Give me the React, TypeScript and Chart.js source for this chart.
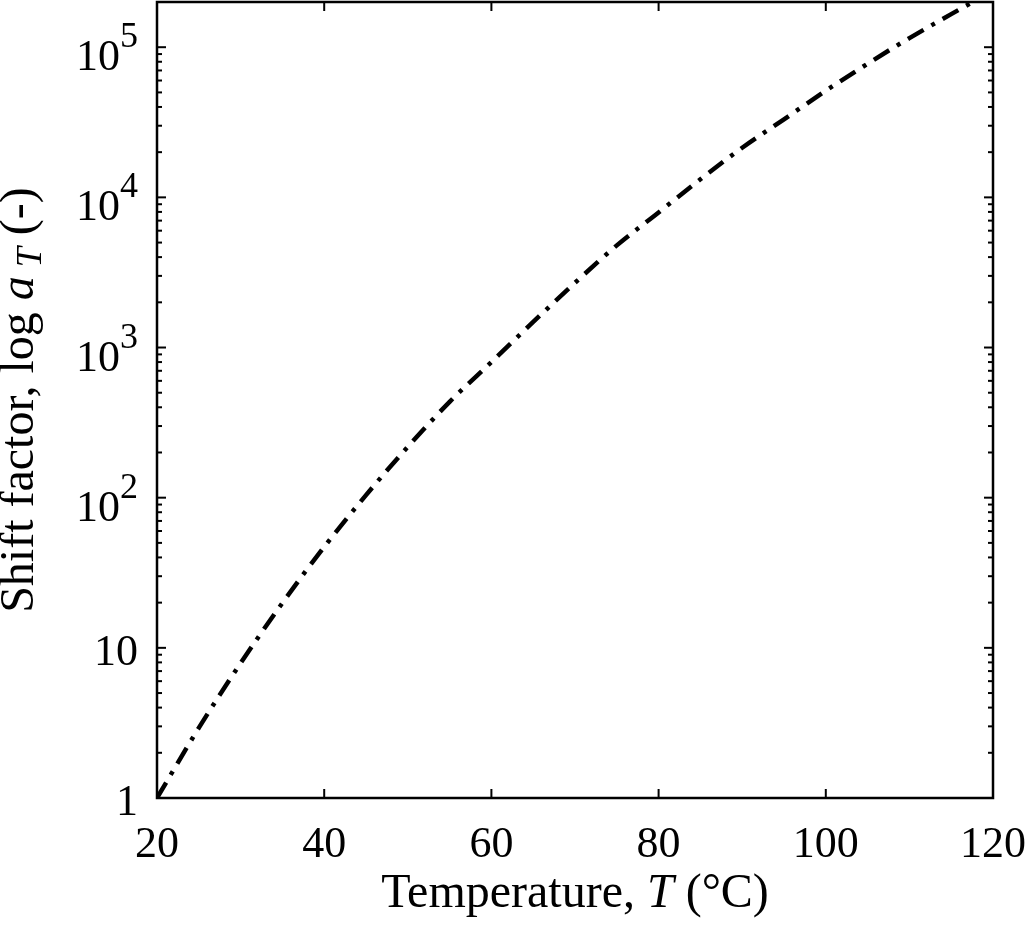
import React, { useEffect, useRef } from 'react';
import { Chart, registerables } from 'chart.js';

Chart.register(...registerables);

// ---- Data ----
const temperatures = [20, 25, 30, 35, 40, 45, 50, 55, 60, 65, 70, 75, 80, 85, 90, 95, 100, 105, 110, 115, 120];
const shiftFactors = [1, 2.93, 7.9, 19.9, 47, 104, 218, 435, 800, 1480, 2700, 4790, 7940, 13200, 21400, 33100, 51300, 77600, 115000, 166000, 238000];

// ---- Axes ----
const xMin = 20;
const xMax = 120;
const yMin = 1;
const yMax = 200000;
const xTickValues = [20, 40, 60, 80, 100, 120];
const xTickLabels = ['20', '40', '60', '80', '100', '120'];
const yMajorTicks = [1, 10, 100, 1000, 10000, 100000];
const yTickBases = ['1', '10', '10', '10', '10', '10'];
const yTickExponents = ['', '', '2', '3', '4', '5'];
const yMinorMultipliers = [2, 3, 4, 5, 6, 7, 8, 9];

const xTitleParts = [
  { text: 'Temperature, ', italic: false, sub: false },
  { text: 'T', italic: true, sub: false },
  { text: ' (°C)', italic: false, sub: false },
];
const yTitleParts = [
  { text: 'Shift factor, log ', italic: false, sub: false },
  { text: 'a', italic: true, sub: false },
  { text: ' T', italic: true, sub: true },
  { text: ' (-)', italic: false, sub: false },
];

const FONT = "'Liberation Serif', 'Times New Roman', serif";
const TICK_SIZE = 44;
const EXP_SIZE = 36;
const TITLE_SIZE = 48;
const SUB_SIZE = 36;

type Part = { text: string; italic: boolean; sub: boolean };

function partFont(p: Part) {
  return `${p.italic ? 'italic ' : ''}${p.sub ? SUB_SIZE : TITLE_SIZE}px ${FONT}`;
}

function drawParts(ctx: CanvasRenderingContext2D, parts: Part[], cx: number, baseline: number) {
  let total = 0;
  const widths = parts.map((p) => {
    ctx.font = partFont(p);
    const w = ctx.measureText(p.text).width;
    total += w;
    return w;
  });
  let x = cx - total / 2;
  ctx.textAlign = 'left';
  ctx.textBaseline = 'alphabetic';
  parts.forEach((p, i) => {
    ctx.font = partFont(p);
    ctx.fillText(p.text, x, baseline + (p.sub ? 8 : 0));
    x += widths[i];
  });
}

const axesPlugin = {
  id: 'axesPlugin',
  afterDraw(chart: any) {
    const { ctx, chartArea: a, scales } = chart;
    const xs = scales.x;
    const ys = scales.y;
    const MAJOR = 9;
    const MINOR = 5;
    ctx.save();
    ctx.strokeStyle = '#000';
    ctx.fillStyle = '#000';
    ctx.lineCap = 'butt';
    const seg = (x1: number, y1: number, x2: number, y2: number) => {
      ctx.beginPath();
      ctx.moveTo(x1, y1);
      ctx.lineTo(x2, y2);
      ctx.stroke();
    };
    ctx.lineWidth = 2;
    xTickValues.forEach((v) => {
      const px = xs.getPixelForValue(v);
      seg(px, a.bottom, px, a.bottom - MAJOR);
      seg(px, a.top, px, a.top + MAJOR);
    });
    yMajorTicks.forEach((v) => {
      const py = ys.getPixelForValue(v);
      seg(a.left, py, a.left + MAJOR, py);
      seg(a.right, py, a.right - MAJOR, py);
      yMinorMultipliers.forEach((m) => {
        const mv = v * m;
        if (mv >= yMax) return;
        const pm = ys.getPixelForValue(mv);
        seg(a.left, pm, a.left + MINOR, pm);
        seg(a.right, pm, a.right - MINOR, pm);
      });
    });
    ctx.lineWidth = 2.5;
    ctx.strokeRect(a.left, a.top, a.right - a.left, a.bottom - a.top);

    // x tick labels
    ctx.font = `${TICK_SIZE}px ${FONT}`;
    ctx.textAlign = 'center';
    ctx.textBaseline = 'alphabetic';
    xTickValues.forEach((v, i) => {
      ctx.fillText(xTickLabels[i], xs.getPixelForValue(v), a.bottom + 59);
    });

    // y tick labels
    const rightEdge = a.left - 19;
    yMajorTicks.forEach((v, i) => {
      const py = ys.getPixelForValue(v);
      const base = yTickBases[i];
      const exp = yTickExponents[i];
      ctx.textAlign = 'right';
      if (!exp) {
        ctx.font = `${TICK_SIZE}px ${FONT}`;
        ctx.fillText(base, rightEdge, py + 17);
      } else {
        ctx.font = `${EXP_SIZE}px ${FONT}`;
        const ew = ctx.measureText(exp).width;
        ctx.fillText(exp, rightEdge, py);
        ctx.font = `${TICK_SIZE}px ${FONT}`;
        ctx.fillText(base, rightEdge - ew, py + 23);
      }
    });

    // x title
    drawParts(ctx, xTitleParts, (a.left + a.right) / 2, a.bottom + 109);

    // y title (rotated)
    ctx.save();
    ctx.translate(33, (a.top + a.bottom) / 2);
    ctx.rotate(-Math.PI / 2);
    drawParts(ctx, yTitleParts, 0, 0);
    ctx.restore();

    ctx.restore();
  },
};

export default function App() {
  const canvasRef = useRef<HTMLCanvasElement | null>(null);

  useEffect(() => {
    document.body.style.margin = '0';
    const canvas = canvasRef.current;
    if (!canvas) return;
    const chart = new Chart(canvas, {
      type: 'line',
      data: {
        datasets: [
          {
            data: temperatures.map((t, i) => ({ x: t, y: shiftFactors[i] })),
            borderColor: '#000',
            backgroundColor: '#000',
            borderWidth: 4.5,
            borderDash: [18, 9, 4, 9],
            borderCapStyle: 'butt',
            pointRadius: 0,
            cubicInterpolationMode: 'monotone',
            fill: false,
            clip: 0,
          } as any,
        ],
      },
      options: {
        animation: false,
        responsive: false,
        maintainAspectRatio: false,
        layout: { padding: { left: 157, right: 32, top: 2, bottom: 131 } },
        plugins: {
          legend: { display: false },
          tooltip: { enabled: false },
          title: { display: false },
        },
        scales: {
          x: { type: 'linear', min: xMin, max: xMax, display: false },
          y: { type: 'logarithmic', min: yMin, max: yMax, display: false },
        },
      },
      plugins: [axesPlugin],
    });
    return () => chart.destroy();
  }, []);

  return (
    <div style={{ width: 1025, height: 929, background: '#fff' }}>
      <canvas ref={canvasRef} width={1025} height={929} style={{ display: 'block', width: 1025, height: 929 }} />
    </div>
  );
}
